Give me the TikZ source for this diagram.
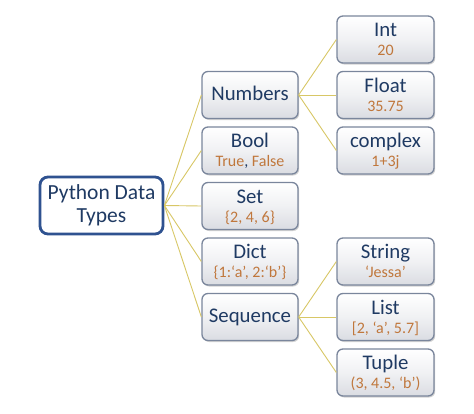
\documentclass[tikz,border=0pt]{standalone}
\usepackage{fontspec}
\setmainfont{Carlito}
\usetikzlibrary{shadows,calc}
\definecolor{navy}{HTML}{1F3A63}
\definecolor{orng}{HTML}{C0773C}
\definecolor{boxedge}{HTML}{7A869C}
\definecolor{boxbot}{HTML}{DADCE2}
\definecolor{rootedge}{HTML}{2F5290}
\definecolor{link}{HTML}{D8C766}
\tikzset{
  tbox/.style={draw=boxedge, line width=1.3pt, rounded corners=6pt,
    top color=white, bottom color=boxbot, middle color=white!60!boxbot,
    minimum width=96pt, minimum height=47pt, inner sep=0pt,
    drop shadow={shadow xshift=1.2pt, shadow yshift=-1.5pt, opacity=0.35, fill=gray}},
  rootbox/.style={draw=rootedge, line width=2.8pt, rounded corners=8pt, fill=white,
    minimum width=123pt, minimum height=57pt, inner sep=0pt},
  ttl/.style={anchor=base, inner sep=0pt, text=navy, font=\fontsize{20.8}{24}\selectfont},
  rttl/.style={ttl, font=\fontsize{21.5}{24}\selectfont},
  sub/.style={anchor=base, inner sep=0pt, text=orng, font=\fontsize{16}{18}\selectfont},
  link/.style={draw=link, line width=0.9pt}
}
\begin{document}
\begin{tikzpicture}[x=1pt,y=-1pt]
\useasboundingbox (0,0) rectangle (474,413);
\fill[white] (0,0) rectangle (474,413);
% root
\node[rootbox] (root) at (101.5,205.5) {};
% middle column
\node[tbox] (num) at (250,95) {};
\node[tbox] (bool) at (250,150.5) {};
\node[tbox] (set) at (250,206) {};
\node[tbox] (dict) at (250,261.5) {};
\node[tbox] (seq) at (250,317) {};
% right column
\node[tbox, minimum width=97pt] (int) at (385.5,39.5) {};
\node[tbox, minimum width=97pt] (float) at (385.5,95) {};
\node[tbox, minimum width=97pt] (cplx) at (385.5,150.5) {};
\node[tbox, minimum width=97pt] (str) at (385.5,261.5) {};
\node[tbox, minimum width=97pt] (list) at (385.5,317) {};
\node[tbox, minimum width=97pt] (tup) at (385.5,372.5) {};
% connectors
\foreach \m in {num,bool,set,dict,seq} \draw[link] (root.east) -- (\m.west);
\foreach \m in {int,float,cplx} \draw[link] (num.east) -- (\m.west);
\foreach \m in {str,list,tup} \draw[link] (seq.east) -- (\m.west);
% texts
\node[rttl] (rootA) at ($(root.center)+(0,-6.5)$) {Python Data};
\node[rttl] (rootB) at ($(root.center)+(0,16.5)$) {Types};
\node[ttl] (numT) at ($(num.center)+(0,5)$) {Numbers};
\node[ttl] (boolT) at ($(bool.center)+(0,-3)$) {Bool};
\node[sub] (boolS) at ($(bool.center)+(0,16)$) {True\textcolor{navy}{,} False};
\node[ttl] (setT) at ($(set.center)+(0,-3)$) {Set};
\node[sub] (setS) at ($(set.center)+(0,16)$) {\{2, 4, 6\}};
\node[ttl] (dictT) at ($(dict.center)+(0,-3)$) {Dict};
\node[sub] (dictS) at ($(dict.center)+(0,16)$) {\{1:‘a’, 2:‘b’\}};
\node[ttl] (seqT) at ($(seq.center)+(0,5)$) {Sequence};
\node[ttl] (intT) at ($(int.center)+(0,-3)$) {Int};
\node[sub] (intS) at ($(int.center)+(0,16)$) {20};
\node[ttl] (floatT) at ($(float.center)+(0,-3)$) {Float};
\node[sub] (floatS) at ($(float.center)+(0,16)$) {35.75};
\node[ttl] (cplxT) at ($(cplx.center)+(0,-3)$) {complex};
\node[sub] (cplxS) at ($(cplx.center)+(0,16)$) {1+3j};
\node[ttl] (strT) at ($(str.center)+(0,-3)$) {String};
\node[sub] (strS) at ($(str.center)+(0,16)$) {‘Jessa’};
\node[ttl] (listT) at ($(list.center)+(0,-3)$) {List};
\node[sub] (listS) at ($(list.center)+(0,16)$) {[2, ‘a’, 5.7]};
\node[ttl] (tupT) at ($(tup.center)+(0,-3)$) {Tuple};
\node[sub] (tupS) at ($(tup.center)+(0,16)$) {(3, 4.5, ‘b’)};
\end{tikzpicture}
\end{document}
